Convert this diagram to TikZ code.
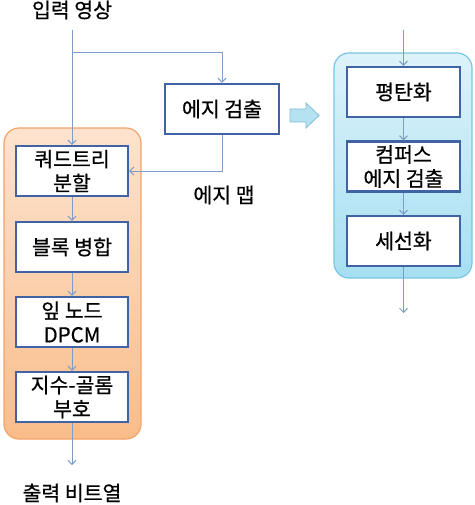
\documentclass[tikz,border=0pt]{standalone}
\usepackage{fontspec}
\setmainfont{Noto Sans CJK KR}[FakeBold=0.6]
\usetikzlibrary{arrows.meta}
\definecolor{boxb}{HTML}{3F63A5}
\definecolor{linec}{HTML}{7D9CC9}
\definecolor{orbord}{HTML}{F3A268}
\definecolor{ortop}{HTML}{FDE3CE}
\definecolor{orbot}{HTML}{F9BC8A}
\definecolor{blbord}{HTML}{78C6E3}
\definecolor{bltop}{HTML}{DDF3FA}
\definecolor{blbot}{HTML}{A6DFF2}
\definecolor{arfill}{HTML}{B5E2F0}
\definecolor{arbord}{HTML}{7FBCD6}
\begin{document}
\begin{tikzpicture}[x=1pt,y=-1pt,
  stepbox/.style={draw=boxb, line width=2.2pt, fill=white, minimum width=112pt, minimum height=50pt, align=center, inner sep=1pt, font=\fontsize{20.5}{24}\selectfont},
  conn/.style={draw=linec, line width=1pt, -{Straight Barb[length=4pt,width=8pt]}},
  lbl/.style={font=\fontsize{20.5}{24}\selectfont, inner sep=0pt}]
\useasboundingbox (0,0) rectangle (474,505);
% containers
\path[draw=orbord, line width=1.2pt, top color=ortop, bottom color=orbot, rounded corners=15pt] (4,128) rectangle (141,439);
\path[draw=blbord, line width=1.2pt, top color=bltop, bottom color=blbot, rounded corners=15pt] (334,53) rectangle (472,278);
% block arrow
\path[draw=arbord, fill=arfill, line width=0.8pt] (290,109) -- (306,109) -- (306,103) -- (319,115.5) -- (306,128) -- (306,122) -- (290,122) -- cycle;
% nodes
\node[lbl] (inp) at (72,10) {입력 영상};
\coordinate (in) at (72,30);
\coordinate (br) at (72,53);
\node[stepbox] (q) at (72,171) {쿼드트리\\분할};
\node[stepbox] (b) at (72,247) {블록 병합};
\node[stepbox] (l) at (72,322) {잎 노드\\DPCM};
\node[stepbox] (g) at (72,397) {지수-골롬\\부호};
\coordinate (out) at (72,465);
\node[lbl] (outl) at (72,493) {출력 비트열};
\node[stepbox, minimum width=114pt] (e) at (222,109) {에지 검출};
\node[lbl] (emap) at (224,195) {에지 맵};
\node[stepbox, minimum width=113pt] (ra) at (403.5,92) {평탄화};
\node[stepbox, minimum width=113pt] (rb) at (403.5,166.5) {컴퍼스\\에지 검출};
\node[stepbox, minimum width=113pt] (rc) at (403.5,241) {세선화};
\coordinate (rin) at (403.5,30);
\coordinate (rout) at (403.5,313);
% connectors
\draw[conn] (in) -- (q.north);
\draw[conn] (br) -| (e.north);
\draw[conn] (e.south) |- (q.east);
\draw[conn] (q.south) -- (b.north);
\draw[conn] (b.south) -- (l.north);
\draw[conn] (l.south) -- (g.north);
\draw[conn] (g.south) -- (out);
\draw[conn] (rin) -- (ra.north);
\draw[conn] (ra.south) -- (rb.north);
\draw[conn] (rb.south) -- (rc.north);
\draw[conn] (rc.south) -- (rout);
\end{tikzpicture}
\end{document}
